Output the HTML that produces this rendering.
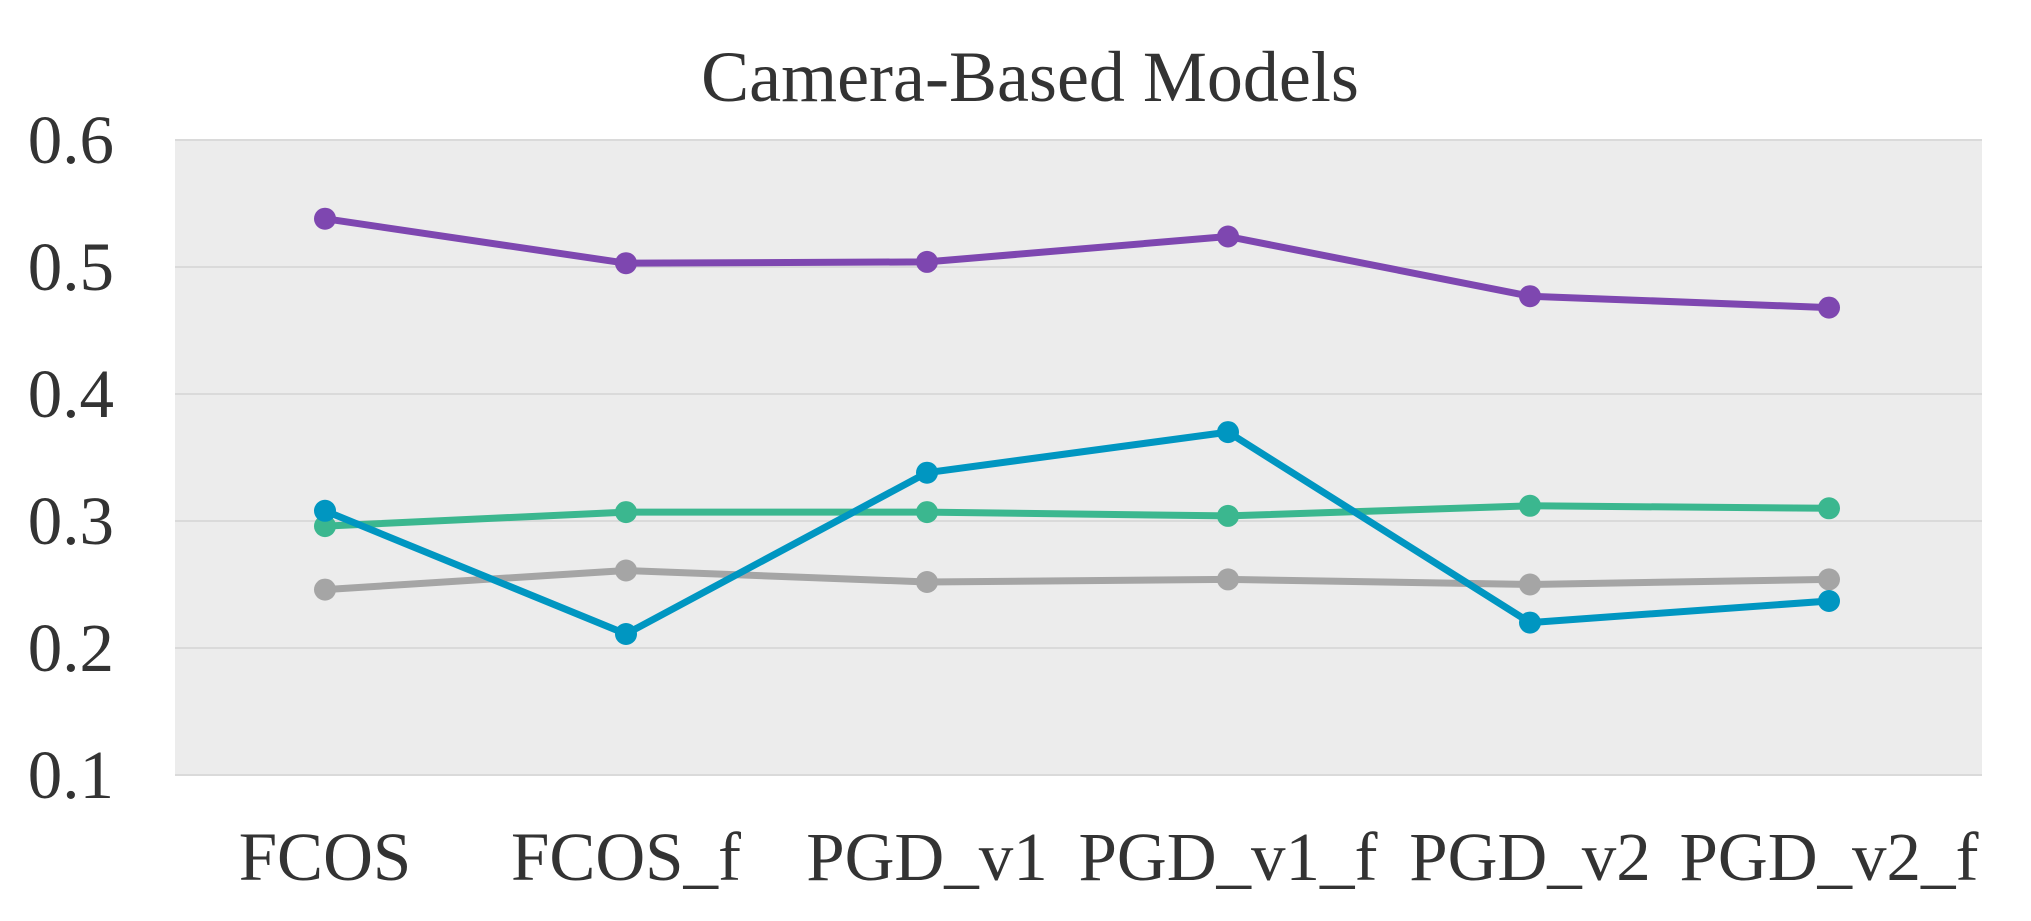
<!DOCTYPE html>
<html><head><style>body{margin:0;background:#fff}svg{display:block}</style></head><body>
<svg width="2031" height="921" xmlns="http://www.w3.org/2000/svg" font-family="Liberation Serif, serif" fill="#333">
<rect x="175" y="140" width="1807" height="635" fill="#ececec"/>
<g stroke="#dadada" stroke-width="2">
<line x1="175" y1="140" x2="1982" y2="140"/><line x1="175" y1="267" x2="1982" y2="267"/><line x1="175" y1="394" x2="1982" y2="394"/><line x1="175" y1="521" x2="1982" y2="521"/><line x1="175" y1="648" x2="1982" y2="648"/><line x1="175" y1="775" x2="1982" y2="775"/>
</g>
<text x="1030" y="101" font-size="72" text-anchor="middle">Camera-Based Models</text>
<g font-size="69" text-anchor="end">
<text x="114" y="163">0.6</text><text x="114" y="290">0.5</text><text x="114" y="417">0.4</text><text x="114" y="544">0.3</text><text x="114" y="671">0.2</text><text x="114" y="798">0.1</text>
</g>
<g font-size="69" text-anchor="middle">
<text x="325" y="880">FCOS</text><text x="626" y="880">FCOS_f</text><text x="927" y="880">PGD_v1</text><text x="1228" y="880">PGD_v1_f</text><text x="1530" y="880">PGD_v2</text><text x="1829" y="880">PGD_v2_f</text>
</g>
<g fill="none" stroke-width="7" stroke-linejoin="round">
<polyline stroke="#a5a5a5" points="325,589.6 626,570.5 927,582 1228,579.4 1530,584.5 1829,579.4"/>
<polyline stroke="#3bb78f" points="325,526.1 626,512.1 927,512.1 1228,515.9 1530,505.8 1829,508.3"/>
<polyline stroke="#0096c1" points="325,510.8 626,634 927,472.7 1228,432.1 1530,622.6 1829,601"/>
<polyline stroke="#7e47b0" points="325,218.7 626,263.2 927,261.9 1228,236.5 1530,296.2 1829,307.6"/>
</g>
<g fill="#a5a5a5"><circle cx="325" cy="589.6" r="11"/><circle cx="626" cy="570.5" r="11"/><circle cx="927" cy="582" r="11"/><circle cx="1228" cy="579.4" r="11"/><circle cx="1530" cy="584.5" r="11"/><circle cx="1829" cy="579.4" r="11"/></g>
<g fill="#3bb78f"><circle cx="325" cy="526.1" r="11"/><circle cx="626" cy="512.1" r="11"/><circle cx="927" cy="512.1" r="11"/><circle cx="1228" cy="515.9" r="11"/><circle cx="1530" cy="505.8" r="11"/><circle cx="1829" cy="508.3" r="11"/></g>
<g fill="#0096c1"><circle cx="325" cy="510.8" r="11"/><circle cx="626" cy="634" r="11"/><circle cx="927" cy="472.7" r="11"/><circle cx="1228" cy="432.1" r="11"/><circle cx="1530" cy="622.6" r="11"/><circle cx="1829" cy="601" r="11"/></g>
<g fill="#7e47b0"><circle cx="325" cy="218.7" r="11"/><circle cx="626" cy="263.2" r="11"/><circle cx="927" cy="261.9" r="11"/><circle cx="1228" cy="236.5" r="11"/><circle cx="1530" cy="296.2" r="11"/><circle cx="1829" cy="307.6" r="11"/></g>
</svg>
</body></html>
